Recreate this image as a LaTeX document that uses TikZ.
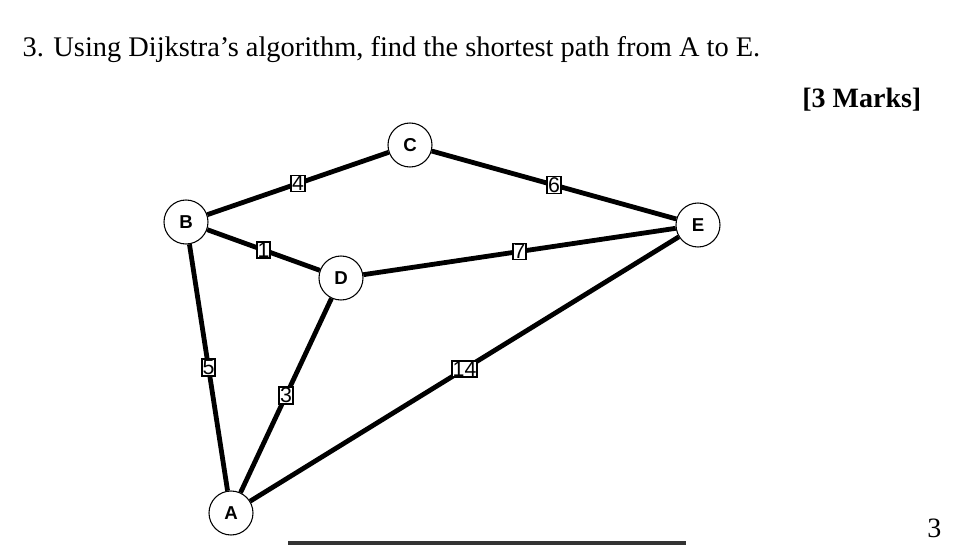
\documentclass[tikz,border=0pt]{standalone}
\usepackage{fontspec}
\setmainfont{Liberation Serif}
\newfontfamily\arialf{Liberation Sans}
\begin{document}
\begin{tikzpicture}[x=0.75pt,y=-0.75pt,
  vert/.style={circle,draw,line width=0.8pt,fill=white,minimum size=33pt,inner sep=0pt,font=\arialf\bfseries\fontsize{14}{15}\selectfont},
  edge/.style={line width=3.6pt},
  wt/.style={draw,line width=1.2pt,fill=white,inner sep=0.6pt,font=\arialf\fontsize{16}{17}\selectfont}]
\useasboundingbox (0,0) rectangle (978,545);
\node[anchor=west,font=\fontsize{21.3}{24}\selectfont] (title) at (18,50) {3. Using Dijkstra’s algorithm, find the shortest path from A to E.};
\node[anchor=east,font=\bfseries\fontsize{21}{24}\selectfont] (marks) at (926,100) {[3 Marks]};
\node[anchor=east,font=\fontsize{21}{24}\selectfont] (pg) at (946,528) {3};
\node[vert] (C) at (410,145) {C};
\node[vert] (B) at (186,222) {B};
\node[vert] (E) at (698,225) {E};
\node[vert] (D) at (341,278) {D};
\node[vert] (A) at (231,513) {A};
\draw[edge] (B) -- node[wt] {4} (C);
\draw[edge] (C) -- node[wt] {6} (E);
\draw[edge] (B) -- node[wt] {1} (D);
\draw[edge] (D) -- node[wt] {7} (E);
\draw[edge] (B) -- node[wt] {5} (A);
\draw[edge] (D) -- node[wt] {3} (A);
\draw[edge] (A) -- node[wt] {14} (E);
\fill[black!80] (288,541) rectangle (686,545);
\end{tikzpicture}
\end{document}
